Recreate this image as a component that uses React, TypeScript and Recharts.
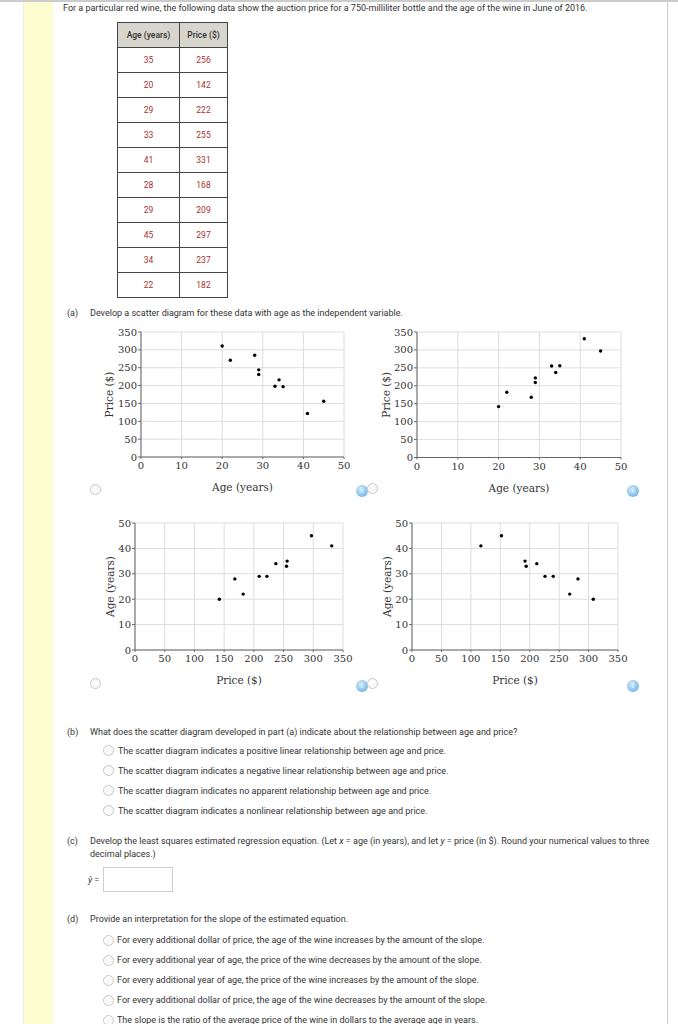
import React from "react";
import { ScatterChart, Scatter, XAxis, YAxis, CartesianGrid } from "recharts";

// table data
const ages = [35, 20, 29, 33, 41, 28, 29, 45, 34, 22];
const prices = [256, 142, 222, 255, 331, 168, 209, 297, 237, 182];

// wrong-answer plots, values (same order as ages)
const optAPrices = [197, 311, 231, 198, 122, 285, 244, 156, 216, 271];
const optDPrices = [192, 308, 226, 194, 117, 282, 240, 152, 212, 268];

const ageTicks = [0, 10, 20, 30, 40, 50];
const priceTicks = [0, 50, 100, 150, 200, 250, 300, 350];

const optionsB = [
  "The scatter diagram indicates a positive linear relationship between age and price.",
  "The scatter diagram indicates a negative linear relationship between age and price.",
  "The scatter diagram indicates no apparent relationship between age and price.",
  "The scatter diagram indicates a nonlinear relationship between age and price.",
];
const optionsD = [
  "For every additional dollar of price, the age of the wine increases by the amount of the slope.",
  "For every additional year of age, the price of the wine decreases by the amount of the slope.",
  "For every additional year of age, the price of the wine increases by the amount of the slope.",
  "For every additional dollar of price, the age of the wine decreases by the amount of the slope.",
  "The slope is the ratio of the average price of the wine in dollars to the average age in years.",
];

const zip = (xs: number[], ys: number[]) => xs.map((x, i) => ({ x, y: ys[i] }));

const serif = "DejaVu Serif";
const tickStyle = { fontSize: 10, fontFamily: serif, fill: "#333" };

const Dot = (p: any) => <circle cx={p.cx} cy={p.cy} r={1.7} fill="#000" />;

function Plot({ left, top, w, h, data, xTicks, yTicks, xTitle, yTitle, yTitleDist }: any) {
  const yw = 45;
  return (
    <div style={{ position: "absolute", left: left - yw, top: top - 8 }}>
      <ScatterChart width={yw + w + 16} height={8 + h + 42} margin={{ top: 8, right: 16, bottom: 0, left: 0 }}>
        <CartesianGrid stroke="#ddd" />
        <XAxis
          type="number"
          dataKey="x"
          domain={[xTicks[0], xTicks[xTicks.length - 1]]}
          ticks={xTicks}
          interval={0}
          height={42}
          tickSize={2}
          tickMargin={3}
          stroke="#666"
          tick={tickStyle}
          label={{ value: xTitle, position: "insideBottom", offset: 8, style: { fontSize: 10.5, fontFamily: serif, fill: "#333" } }}
        />
        <YAxis
          type="number"
          dataKey="y"
          domain={[yTicks[0], yTicks[yTicks.length - 1]]}
          ticks={yTicks}
          interval={0}
          width={yw}
          tickSize={3}
          tickMargin={1}
          stroke="#666"
          tick={tickStyle}
          label={{
            value: yTitle,
            angle: -90,
            position: "insideLeft",
            offset: yw - yTitleDist,
            style: { textAnchor: "middle", fontSize: 10.5, fontFamily: serif, fill: "#333" },
          }}
        />
        <Scatter data={data} shape={Dot} isAnimationActive={false} />
      </ScatterChart>
    </div>
  );
}

const txt: any = {
  position: "absolute",
  fontFamily: "Roboto",
  fontSize: 9,
  color: "#333",
  whiteSpace: "nowrap",
  lineHeight: "10px",
};

function T({ x, y, children }: any) {
  return <div style={{ ...txt, left: x, top: y - 5 }}>{children}</div>;
}

function Radio({ x, y }: any) {
  return (
    <div
      style={{
        position: "absolute",
        left: x - 5.5,
        top: y - 5.5,
        width: 9,
        height: 9,
        borderRadius: "50%",
        border: "1px solid #c8c8c8",
        background: "#fafafa",
      }}
    />
  );
}

function Info({ x, y }: any) {
  return (
    <div
      style={{
        position: "absolute",
        left: x - 6,
        top: y - 6,
        width: 12,
        height: 12,
        borderRadius: "50%",
        background: "radial-gradient(circle at 40% 35%, #cfeafb, #5aa6dc)",
        color: "#eaf6ff",
        fontFamily: "Roboto",
        fontWeight: 700,
        fontSize: 7,
        lineHeight: "12px",
        textAlign: "center",
      }}
    >
      i
    </div>
  );
}

export default function App() {
  const rows = ages.map((a, i) => [a, prices[i]]);
  return (
    <div style={{ position: "absolute", left: 0, top: 0, width: 678, height: 1024, overflow: "hidden", background: "#fff" }}>
      <div style={{ position: "absolute", left: 0, top: 0, width: 678, height: 2, background: "#ccc" }} />
      <div style={{ position: "absolute", left: 23, top: 2, width: 29, height: 1022, background: "#fdfdd2", borderLeft: "1px solid #eee" }} />
      <div style={{ position: "absolute", left: 667, top: 2, width: 1, height: 1022, background: "#ccc" }} />

      <T x={63} y={8}>
        For a particular red wine, the following data show the auction price for a 750-milliliter bottle and the age of the wine in June of 2016.
      </T>

      <table
        style={{
          position: "absolute",
          left: 117,
          top: 22,
          borderCollapse: "collapse",
          fontFamily: "Roboto",
          fontSize: 8.5,
        }}
      >
        <thead>
          <tr style={{ height: 25, background: "#d8d5cd" }}>
            <th style={{ width: 61, border: "1px solid #444", fontWeight: 500, color: "#333", padding: 0 }}>Age (years)</th>
            <th style={{ width: 47, border: "1px solid #444", fontWeight: 500, color: "#333", padding: 0 }}>Price ($)</th>
          </tr>
        </thead>
        <tbody>
          {rows.map((r, i) => (
            <tr key={i} style={{ height: 25 }}>
              <td style={{ border: "1px solid #444", textAlign: "center", color: "#a8302c", padding: 0 }}>{r[0]}</td>
              <td style={{ border: "1px solid #444", textAlign: "center", color: "#a8302c", padding: 0 }}>{r[1]}</td>
            </tr>
          ))}
        </tbody>
      </table>

      <T x={67} y={313}>(a)</T>
      <T x={90} y={313}>Develop a scatter diagram for these data with age as the independent variable.</T>

      <Plot left={141} top={331.5} w={203} h={125} data={zip(ages, optAPrices)} xTicks={ageTicks} yTicks={priceTicks} xTitle="Age (years)" yTitle="Price ($)" yTitleDist={32} />
      <Plot left={417} top={331.5} w={204} h={125.5} data={zip(ages, prices)} xTicks={ageTicks} yTicks={priceTicks} xTitle="Age (years)" yTitle="Price ($)" yTitleDist={31} />
      <Plot left={135} top={523} w={208} h={127} data={zip(prices, ages)} xTicks={priceTicks} yTicks={ageTicks} xTitle="Price ($)" yTitle="Age (years)" yTitleDist={25} />
      <Plot left={412} top={523} w={206} h={127} data={zip(optDPrices, ages)} xTicks={priceTicks} yTicks={ageTicks} xTitle="Price ($)" yTitle="Age (years)" yTitleDist={25} />

      <Radio x={95} y={489} />
      <Info x={362} y={491} />
      <Radio x={372} y={488} />
      <Info x={633} y={491} />
      <Radio x={95} y={683} />
      <Info x={362} y={686} />
      <Radio x={372} y={683} />
      <Info x={633} y={686} />

      <T x={67} y={732}>(b)</T>
      <T x={90} y={732}>What does the scatter diagram developed in part (a) indicate about the relationship between age and price?</T>
      {optionsB.map((o, i) => (
        <React.Fragment key={i}>
          <Radio x={108} y={750.5 + i * 20} />
          <T x={118} y={750.5 + i * 20}>{o}</T>
        </React.Fragment>
      ))}

      <T x={67} y={841}>(c)</T>
      <T x={90} y={841}>
        Develop the least squares estimated regression equation. (Let <i>x</i> = age (in years), and let <i>y</i> = price (in $). Round your numerical values to three
      </T>
      <T x={90} y={854}>decimal places.)</T>
      <T x={88} y={880}>
        <i>ŷ</i> =
      </T>
      <div style={{ position: "absolute", left: 103, top: 867, width: 68, height: 23, border: "1px solid #ccc", background: "#fff" }} />

      <T x={67} y={919}>(d)</T>
      <T x={90} y={919}>Provide an interpretation for the slope of the estimated equation.</T>
      {optionsD.map((o, i) => (
        <React.Fragment key={i}>
          <Radio x={108} y={940 + i * 20} />
          <T x={117} y={940 + i * 20}>{o}</T>
        </React.Fragment>
      ))}
    </div>
  );
}
